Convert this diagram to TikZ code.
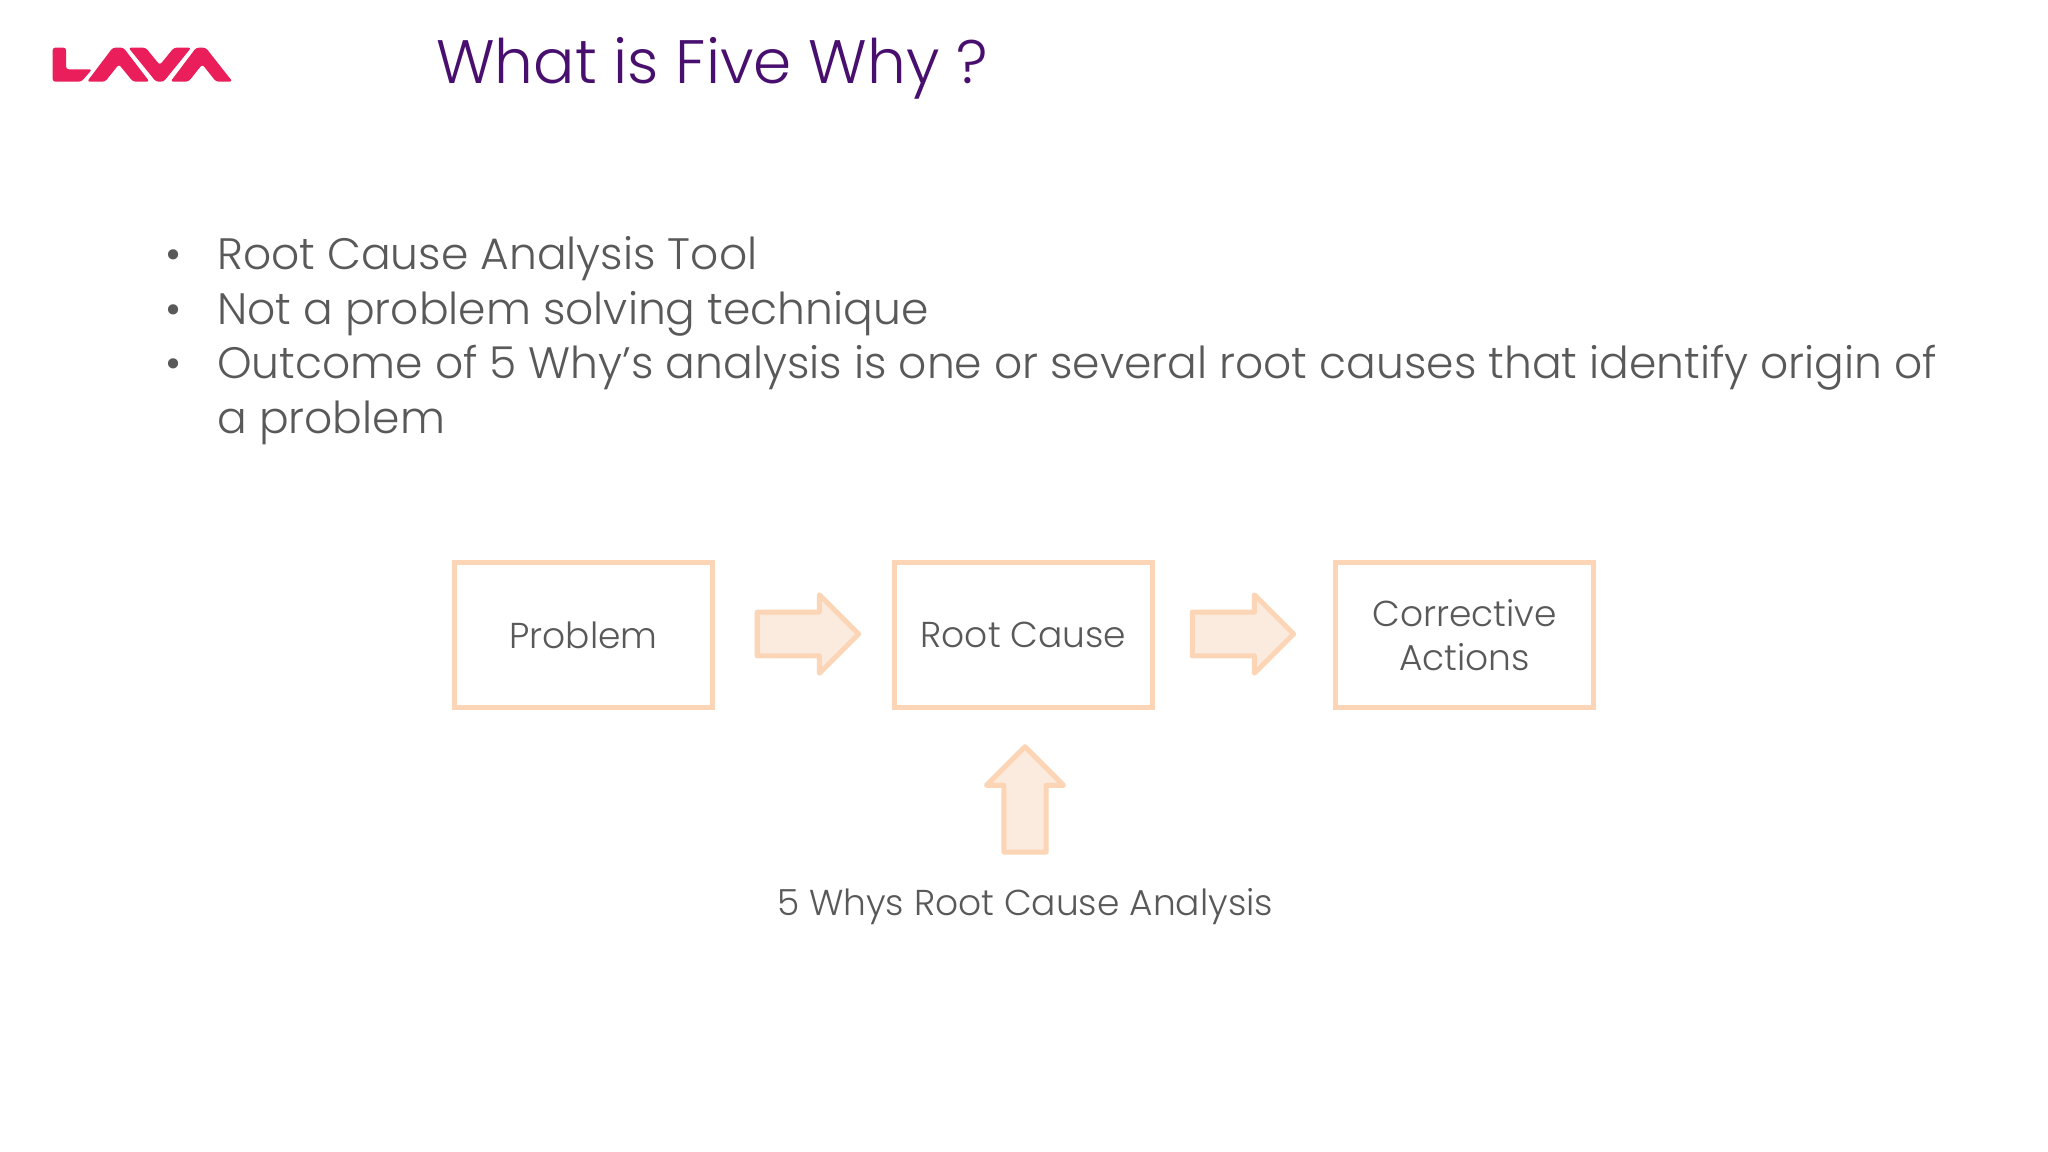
\documentclass[tikz,border=0pt]{standalone}
\usepackage{fontspec}
\usetikzlibrary{shapes.arrows}
\setmainfont{Poppins Light}
\definecolor{txt}{HTML}{595959}
\definecolor{ttl}{HTML}{480F6F}
\definecolor{peach}{HTML}{FBD5B5}
\definecolor{peachfill}{HTML}{FBEBDF}
\definecolor{lava}{HTML}{E91E5A}
\newcommand{\fs}[1]{\fontsize{#1}{#1}\selectfont}
\tikzset{
  x=0.75pt,y=-0.75pt,
  body/.style={anchor=base west,inner sep=0pt,text=txt,font=\fs{33}},
  bul/.style={anchor=base,inner sep=0pt,text=txt,font=\fs{33}},
  stepbox/.style={draw=peach,line width=3.8pt,fill=white,minimum width=193.5pt,minimum height=109pt,inner sep=0pt,text=txt,font=\fs{27},align=center},
  blockarrow/.style={single arrow,draw=peach,fill=peachfill,line width=3.8pt,line join=round,inner sep=0pt,single arrow head extend=13pt,minimum height=76pt},
  logo/.style={fill=lava,rounded corners=2pt}
}
\begin{document}
\begin{tikzpicture}
\useasboundingbox (0,0) rectangle (2048,1152);
\fill[white] (0,0) rectangle (2048,1152);
% logo
\begin{scope}[x=0.287pt,y=-0.25pt,yshift=-0.75pt,xshift=0.75pt]
\fill[logo] (135,140) -- (170,140) -- (170,205) -- (238,205) -- (210,242) -- (135,242) -- cycle;
\fill[logo] (225,242) -- (292,140) -- (320,140) -- (388,242) -- (345,242) -- (308,190) -- (272,242) -- cycle;
\fill[logo] (333,140) -- (378,140) -- (415,192) -- (452,140) -- (497,140) -- (425,242) -- (405,242) -- cycle;
\fill[logo] (443,242) -- (510,140) -- (535,140) -- (605,242) -- (562,242) -- (526,190) -- (490,242) -- cycle;
\end{scope}
\node[anchor=base west,inner sep=0pt,text=ttl,font=\fs{46}] (title) at (436,84) {What is Five Why ?};
\node[bul] (b1) at (174,269) {•};
\node[bul] (b2) at (174,324) {•};
\node[bul] (b3) at (174,378.5) {•};
\node[body] (l1) at (217,269) {Root Cause Analysis Tool};
\node[body] (l2) at (217,324) {Not a problem solving technique};
\node[body] (l3) at (217,378.5) {Outcome of 5 Why’s analysis is one or several root causes that identify origin of};
\node[body] (l4) at (217,433) {a problem};
\node[stepbox] (problem) at (583.5,635) {Problem};
\node[stepbox] (root) at (1023.5,635) {Root Cause};
\node[stepbox] (actions) at (1464.5,635) {Corrective\\[6.5pt]Actions};
\node[blockarrow,inner ysep=14.5pt] (a1) at (797,634) {};
\node[blockarrow,inner ysep=14.5pt] (a2) at (1232,634) {};
\node[blockarrow,inner xsep=14pt,shape border rotate=90,minimum height=79pt] (a3) at (1025,810) {};
\node[anchor=center,inner sep=0pt,text=txt,font=\fs{27}] (why) at (1025,907) {5 Whys Root Cause Analysis};
\end{tikzpicture}
\end{document}
